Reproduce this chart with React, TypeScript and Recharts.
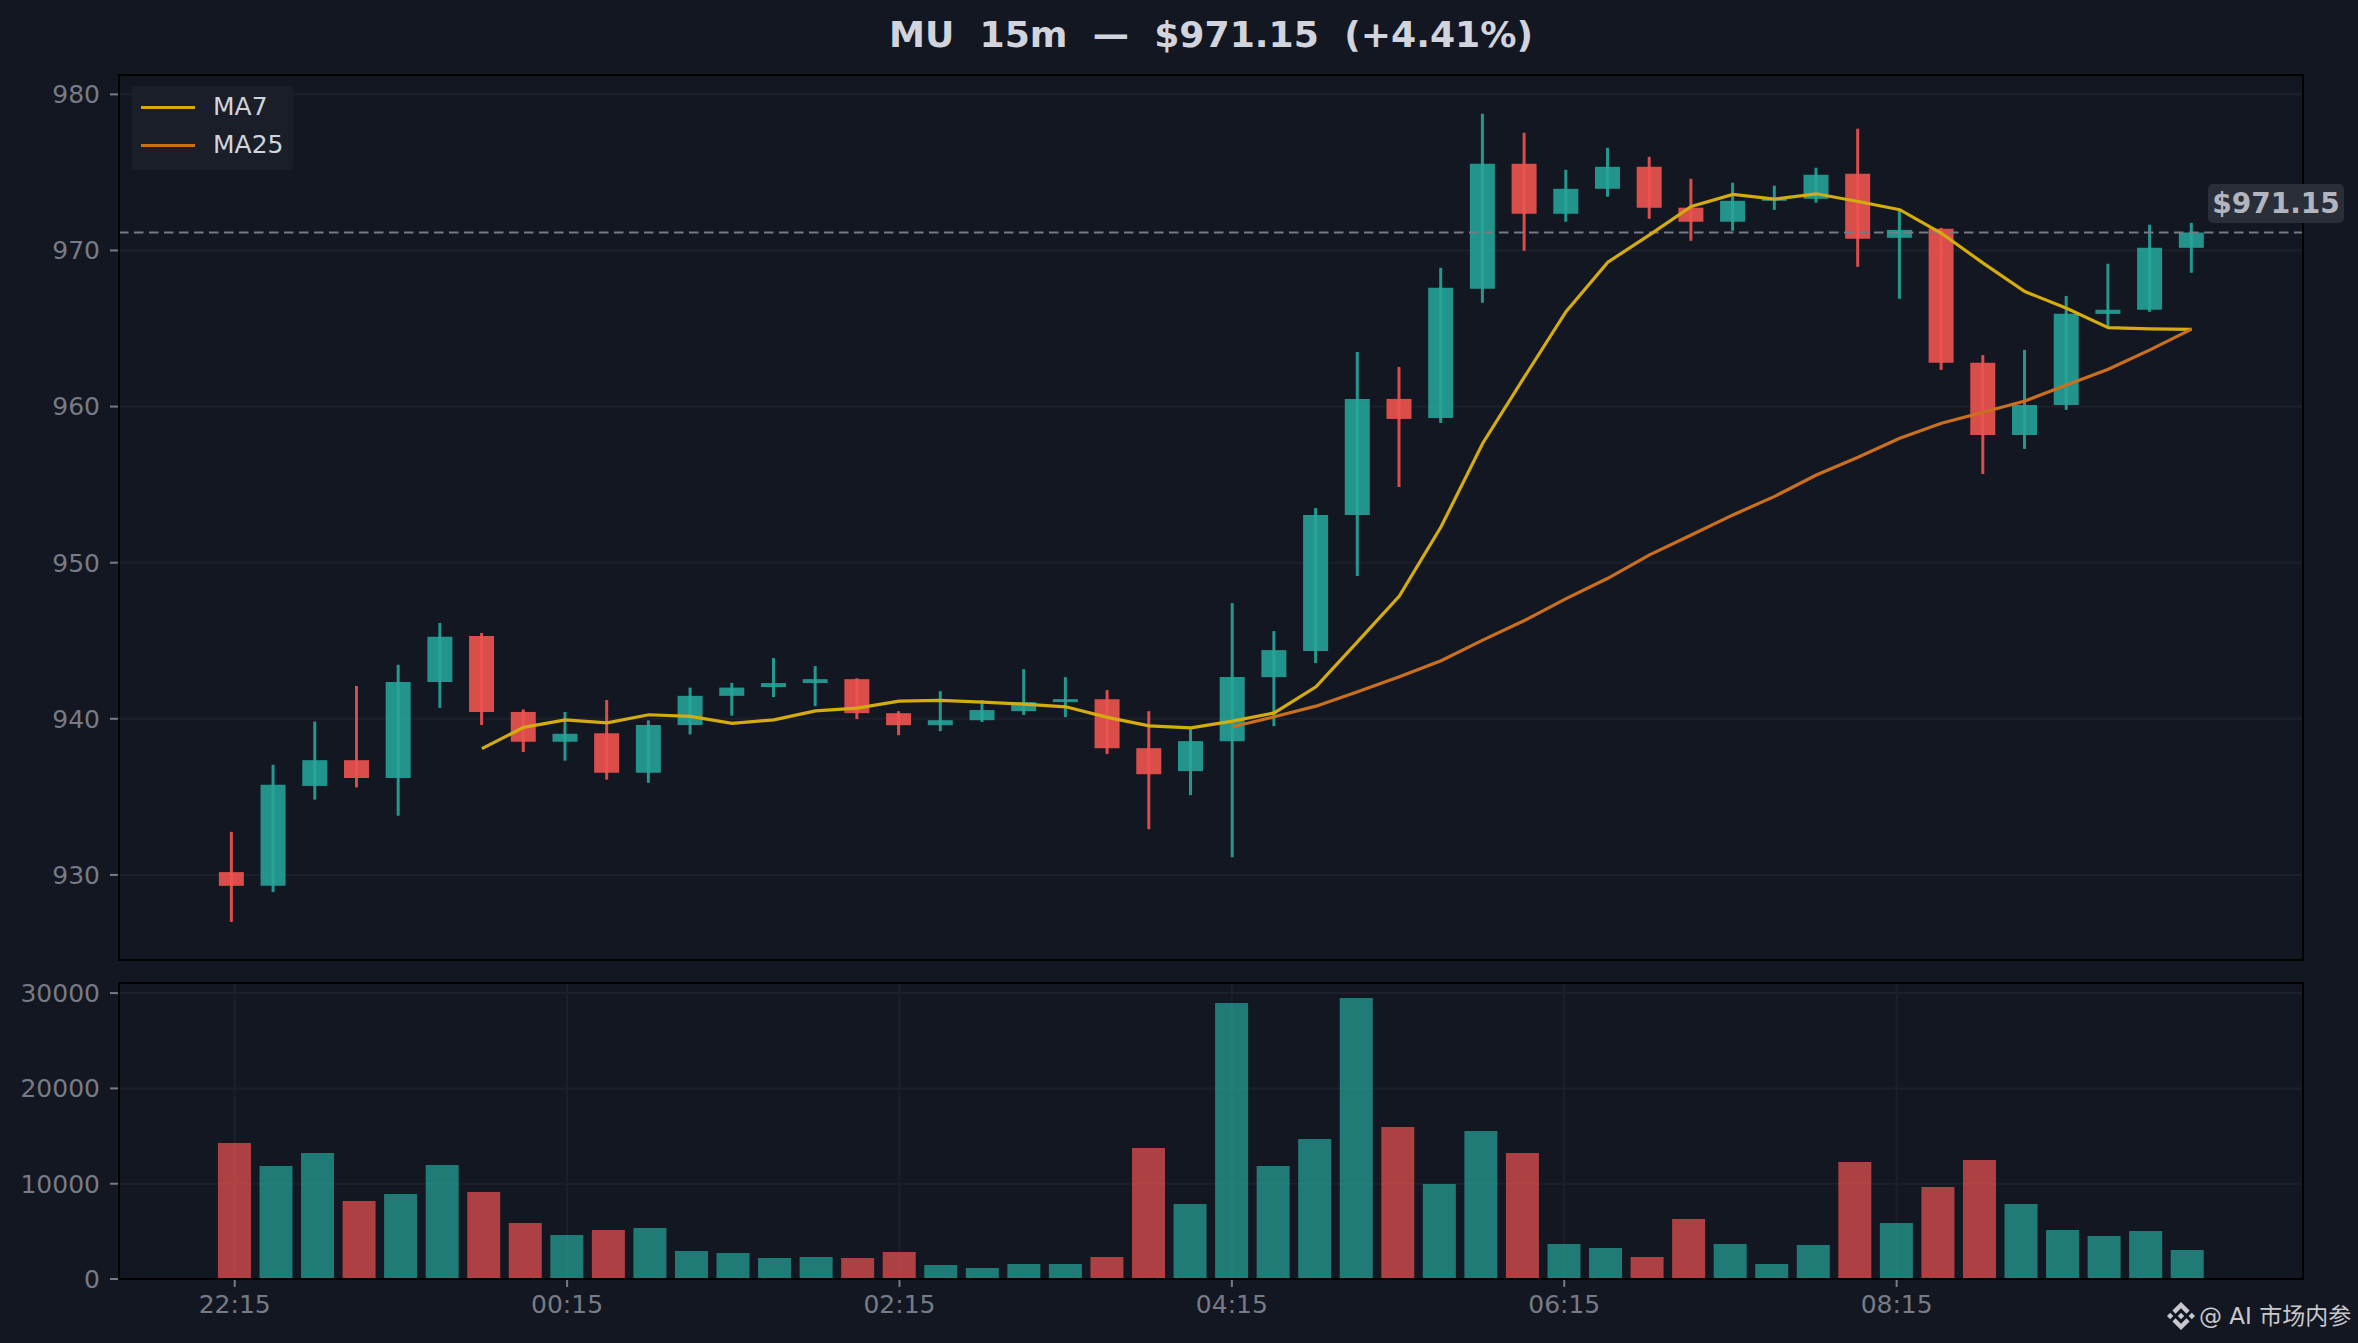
import React from 'react';
import { ComposedChart, Bar, Line, XAxis, YAxis, CartesianGrid, ReferenceLine, Legend, Cell } from 'recharts';

const BG = '#131722';
const TICK = '#787b86';
const GRID = '#1c202b';
const UP = '#26a69a';
const DOWN = '#ef5350';

// one entry per 15m candle, starting at 22:15
const opens = [930.18, 929.3, 935.7, 937.35, 936.21, 942.35, 945.3, 940.44, 938.53, 939.08, 936.54, 939.6, 941.47, 942.03, 942.29, 942.54, 940.36, 939.59, 939.91, 940.49, 941.07, 941.26, 938.12, 936.65, 938.57, 942.67, 944.34, 953.06, 960.49, 959.27, 967.54, 975.56, 972.35, 973.95, 975.36, 972.74, 971.84, 973.18, 973.31, 974.91, 970.81, 971.39, 962.8, 958.18, 960.1, 965.94, 966.2, 970.17];
const closes = [929.3, 935.77, 937.35, 936.21, 942.35, 945.26, 940.44, 938.53, 939.04, 936.54, 939.6, 941.47, 942.0, 942.29, 942.54, 940.36, 939.59, 939.91, 940.56, 941.07, 941.26, 938.12, 936.45, 938.57, 942.67, 944.4, 953.06, 960.49, 959.21, 967.61, 975.56, 972.35, 973.95, 975.36, 972.74, 971.84, 973.18, 973.31, 974.85, 970.75, 971.32, 962.8, 958.18, 960.1, 965.94, 966.2, 970.17, 971.15];
const highs = [932.76, 937.06, 939.82, 942.1, 943.46, 946.14, 945.5, 940.6, 940.44, 941.2, 939.9, 942.0, 942.3, 943.89, 943.38, 942.6, 940.49, 941.77, 941.2, 943.18, 942.67, 941.84, 940.49, 939.34, 947.41, 945.62, 953.5, 963.5, 962.54, 968.89, 978.76, 977.54, 975.17, 976.58, 976.0, 974.59, 974.34, 974.15, 975.3, 977.8, 972.6, 971.45, 963.3, 963.63, 967.09, 969.15, 971.65, 971.77];
const lows = [926.99, 928.9, 934.82, 935.6, 933.79, 940.7, 939.6, 937.87, 937.32, 936.1, 935.9, 939.0, 940.2, 941.39, 940.81, 939.98, 938.95, 939.21, 939.79, 940.24, 940.11, 937.74, 932.93, 935.11, 931.13, 939.53, 943.57, 949.15, 954.85, 958.95, 966.65, 969.98, 971.84, 973.44, 972.03, 970.62, 971.26, 972.6, 973.06, 968.95, 966.9, 962.35, 955.68, 957.29, 959.79, 965.04, 966.07, 968.57];
const ma7 = [null, null, null, null, null, null, 938.09, 939.45, 939.93, 939.74, 940.26, 940.15, 939.71, 939.93, 940.51, 940.68, 941.13, 941.18, 941.07, 940.94, 940.77, 940.09, 939.55, 939.42, 939.85, 940.38, 942.05, 944.94, 947.86, 952.3, 957.65, 961.9, 966.09, 969.25, 971.0, 972.82, 973.59, 973.29, 973.63, 973.14, 972.61, 971.1, 969.19, 967.37, 966.3, 965.06, 964.98, 964.94];
const ma25 = [null, null, null, null, null, null, null, null, null, null, null, null, null, null, null, null, null, null, null, null, null, null, null, null, 939.49, 940.13, 940.81, 941.73, 942.69, 943.72, 945.04, 946.3, 947.7, 949.0, 950.5, 951.77, 953.06, 954.25, 955.62, 956.75, 957.97, 958.93, 959.64, 960.36, 961.39, 962.39, 963.63, 964.96];
const volumes = [14266, 11853, 13217, 8182, 8916, 11958, 9126, 5874, 4615, 5140, 5350, 2937, 2727, 2203, 2308, 2203, 2832, 1469, 1154, 1573, 1573, 2308, 13741, 7867, 28951, 11853, 14685, 29476, 15944, 9965, 15524, 13217, 3671, 3252, 2308, 6294, 3671, 1573, 3566, 12273, 5874, 9650, 12483, 7867, 5140, 4510, 5035, 3042];

const timeTicks = [0, 8, 16, 24, 32, 40];
const timeLabels = ['22:15', '00:15', '02:15', '04:15', '06:15', '08:15'];
const priceTicks = [930, 940, 950, 960, 970, 980];
const volumeTicks = [0, 10000, 20000, 30000];
const legendNames = ['MA7', 'MA25'];
const lastPrice = 971.15;

const candles = opens.map((open, i) => ({
    idx: i,
    body: [Math.min(open, closes[i]), Math.max(open, closes[i])],
    wick: [lows[i], highs[i]],
    ma7: ma7[i],
    ma25: ma25[i],
    volume: volumes[i],
    up: closes[i] >= open,
}));

// the two panels do not share the same x limits
const PRICE_X_DOMAIN = [-2.703, 49.67];
const VOLUME_X_DOMAIN = [-2.785, 49.78];
const tickStyle = { fill: TICK, fontSize: 25, fontFamily: 'DejaVu Sans' };

const MaLegend = ({ payload }: any) => {
    const items = legendNames.map((name) => (payload || []).find((p: any) => p.value === name)).filter(Boolean);
    return (
        <div style={{ width: 161, height: 84, background: '#1a1e29', borderRadius: 4, position: 'relative', fontFamily: 'DejaVu Sans', fontSize: 25, color: '#d1d4dc' }}>
            {items.map((item: any, i: number) => (
                <div key={item.value} style={{ position: 'absolute', left: 9, top: 21 + i * 38, width: 150, height: 0 }}>
                    <div style={{ position: 'absolute', left: 0, top: -1.5, width: 54, height: 3, background: item.color }} />
                    <span style={{ position: 'absolute', left: 72, top: -15, lineHeight: '30px' }}>{item.value}</span>
                </div>
            ))}
        </div>
    );
};

const Frame = ({ left, top, width, height }: { left: number; top: number; width: number; height: number }) => (
    <div style={{ position: 'absolute', boxSizing: 'border-box', left: left - 1, top: top - 1, width: width + 2, height: height + 2, border: '2px solid #000', pointerEvents: 'none' }} />
);

export default function App() {
    return (
        <div style={{ position: 'absolute', left: 0, top: 0, width: 2358, height: 1343, background: BG, overflow: 'hidden' }}>
            <div style={{ position: 'absolute', left: 0, width: 2422, top: 12, textAlign: 'center', fontFamily: 'DejaVu Sans', fontWeight: 700, fontSize: 36.2, lineHeight: '46px', color: '#d1d4dc', whiteSpace: 'pre' }}>
                {'MU  15m  —  $971.15  (+4.41%)'}
            </div>

            <div style={{ position: 'absolute', left: 0, top: 0 }}>
                <ComposedChart width={2358} height={985} data={candles} margin={{ top: 75, right: 55, bottom: 25, left: 19 }}>
                    <CartesianGrid stroke={GRID} strokeWidth={2} vertical={false} yAxisId="price" xAxisId="body" />
                    <XAxis xAxisId="body" dataKey="idx" type="number" domain={PRICE_X_DOMAIN} allowDataOverflow hide />
                    <XAxis xAxisId="wick" dataKey="idx" type="number" domain={PRICE_X_DOMAIN} allowDataOverflow hide />
                    <YAxis yAxisId="price" width={100} domain={[924.55, 981.24]} ticks={priceTicks} interval={0} allowDataOverflow
                        axisLine={false} tickSize={9} tickMargin={10} tickLine={{ stroke: TICK, strokeWidth: 2 }} tick={tickStyle} />
                    <Legend layout="vertical" align="center" verticalAlign="middle" content={<MaLegend />}
                        wrapperStyle={{ left: 132, top: 86, width: 161, height: 84 }} />
                    <Bar xAxisId="wick" yAxisId="price" dataKey="wick" barSize={3} legendType="none" isAnimationActive={false}>
                        {candles.map((c) => (
                            <Cell key={`w-${c.idx}`} fill={c.up ? UP : DOWN} fillOpacity={0.9} />
                        ))}
                    </Bar>
                    <Bar xAxisId="body" yAxisId="price" dataKey="body" barSize={25} legendType="none" isAnimationActive={false}>
                        {candles.map((c) => (
                            <Cell key={`b-${c.idx}`} fill={c.up ? UP : DOWN} fillOpacity={c.up ? 0.88 : 0.9} />
                        ))}
                    </Bar>
                    <ReferenceLine xAxisId="body" yAxisId="price" y={lastPrice} stroke={TICK} strokeWidth={2} strokeDasharray="9.5 5.5" />
                    <Line xAxisId="body" yAxisId="price" dataKey="ma7" name="MA7" stroke="#d4ac0d" strokeWidth={3.2} dot={false} activeDot={false} isAnimationActive={false} />
                    <Line xAxisId="body" yAxisId="price" dataKey="ma25" name="MA25" stroke="#ca6f1e" strokeWidth={3.2} dot={false} activeDot={false} isAnimationActive={false} />
                </ComposedChart>
            </div>
            <Frame left={119} top={75} width={2184} height={885} />

            <div style={{ position: 'absolute', left: 2208, top: 184, width: 136, height: 39, background: '#2a2e39', borderRadius: 5, textAlign: 'center', fontFamily: 'DejaVu Sans', fontWeight: 700, fontSize: 28, lineHeight: '39px', color: '#b2b5be' }}>
                ${lastPrice.toFixed(2)}
            </div>

            <div style={{ position: 'absolute', left: 0, top: 960 }}>
                <ComposedChart width={2358} height={383} data={candles} margin={{ top: 23, right: 55, bottom: 4, left: 19 }}>
                    <CartesianGrid stroke={GRID} strokeWidth={2} />
                    <XAxis dataKey="idx" type="number" domain={VOLUME_X_DOMAIN} allowDataOverflow ticks={timeTicks} interval={0} height={60}
                        tickFormatter={(v: number) => timeLabels[timeTicks.indexOf(v)]}
                        axisLine={false} tickSize={8} tickMargin={8} tickLine={{ stroke: TICK, strokeWidth: 2 }} tick={tickStyle} />
                    <YAxis width={100} domain={[0, 31060]} ticks={volumeTicks} interval={0} allowDataOverflow
                        axisLine={false} tickSize={9} tickMargin={10} tickLine={{ stroke: TICK, strokeWidth: 2 }} tick={tickStyle} />
                    <Bar dataKey="volume" barSize={33} isAnimationActive={false}>
                        {candles.map((c) => (
                            <Cell key={`v-${c.idx}`} fill={c.up ? UP : DOWN} fillOpacity={0.7} />
                        ))}
                    </Bar>
                </ComposedChart>
            </div>
            <Frame left={119} top={983} width={2184} height={296} />

            <svg style={{ position: 'absolute', left: 2167, top: 1302 }} width={28} height={28} viewBox="0 0 126.61 126.61" fill="#c8c9cc">
                <path d="M38.73 53.2l24.59-24.58 24.6 24.6 14.3-14.31L63.32 0 24.43 38.9z" />
                <path d="M0 63.31l14.3-14.31 14.31 14.31-14.31 14.3z" />
                <path d="M38.73 73.41l24.59 24.59 24.6-24.6 14.31 14.29-38.9 38.91-38.91-38.88z" />
                <path d="M98 63.31l14.3-14.3 14.31 14.3-14.31 14.3z" />
                <path d="M77.83 63.3L63.32 48.78 48.81 63.28l14.51 14.5z" />
            </svg>
            <div style={{ position: 'absolute', left: 2199, top: 1300, fontFamily: '"DejaVu Sans", "Noto Sans CJK SC"', fontSize: 23, lineHeight: '32px', color: '#c8c9cc', whiteSpace: 'pre' }}>
                @ AI 市场内参
            </div>
        </div>
    );
}
